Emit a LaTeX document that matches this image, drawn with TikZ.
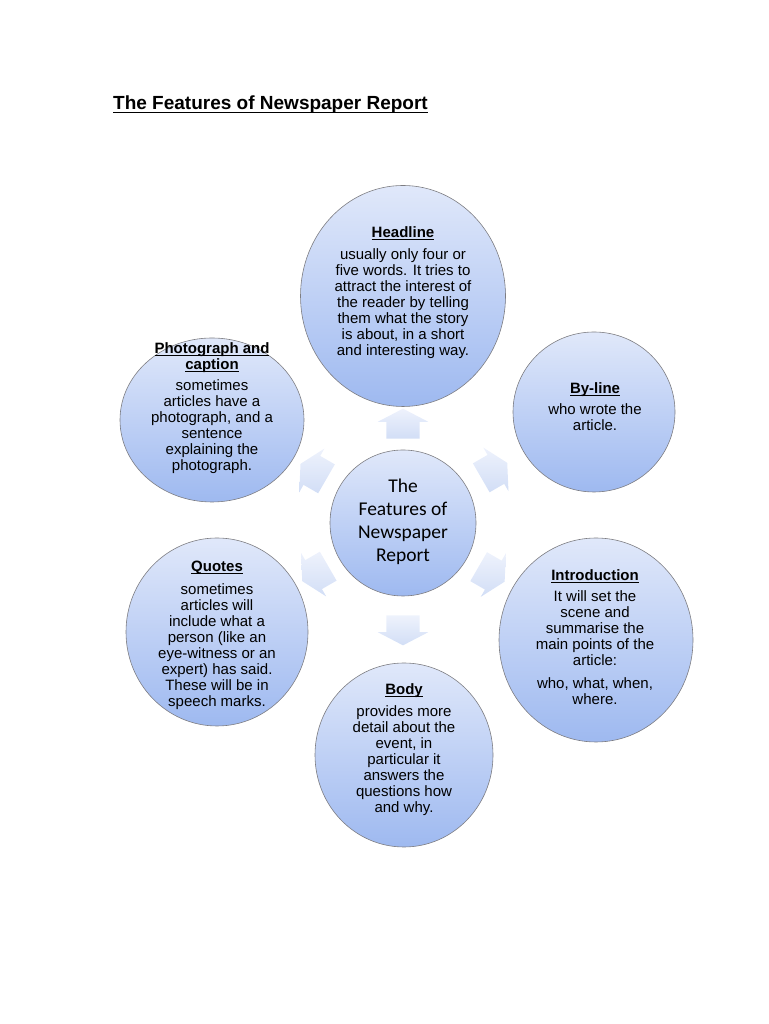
\documentclass[tikz,border=0pt]{standalone}
\usepackage{fontspec}
\setmainfont{Liberation Sans}
\newfontfamily\calibri{Carlito}
\usetikzlibrary{shapes.geometric,shapes.arrows,calc}
\definecolor{bubtop}{RGB}{224,232,250}
\definecolor{bubbot}{RGB}{158,185,240}
\definecolor{bubline}{RGB}{125,125,130}
\definecolor{arrtop}{RGB}{238,242,252}
\definecolor{arrbot}{RGB}{210,222,246}
\newcommand{\hd}[1]{\leavevmode\setbox0=\hbox{\bfseries #1}\rlap{\rule[-.17em]{\wd0}{.08em}}\box0}

\begin{document}
\begin{tikzpicture}[x=1pt,y=1pt,font=\fontsize{15}{16}\selectfont,
 bubble/.style={ellipse,draw=bubline,line width=.6pt,top color=bubtop,bottom color=bubbot,inner sep=0pt},
 blurb/.style={align=center,inner sep=0pt},
 fwd/.style={single arrow,single arrow head extend=8.5pt,single arrow tip angle=125,
   minimum height=30pt,inner xsep=0pt,inner ysep=16.5pt,top color=arrtop,bottom color=arrbot}]
 \useasboundingbox (0,0) rectangle (768,1024);
 \node[anchor=base west,inner sep=0pt,font=\fontsize{19}{22}\selectfont] (title) at (113,914) {\hd{The Features of Newspaper Report}};
 % the hub and the six bubbles
 \node[bubble,minimum width=146pt,minimum height=146pt] (hub) at (403,501) {};
 \node[bubble,minimum width=205pt,minimum height=221pt] (headline) at (403,728) {};
 \node[bubble,minimum width=162pt,minimum height=160pt] (byline) at (594,612) {};
 \node[bubble,minimum width=194pt,minimum height=204pt] (intro) at (596,384) {};
 \node[bubble,minimum width=178pt,minimum height=184pt] (body) at (404,269) {};
 \node[bubble,minimum width=182pt,minimum height=188pt] (quotes) at (217,392) {};
 \node[bubble,minimum width=184pt,minimum height=164pt] (photo) at (212,604) {};
 % block arrows pointing out of the hub
 \node[fwd,rotate=90] (to-headline) at ($(hub)+(90:95)$) {};
 \node[fwd,rotate=30] (to-byline) at ($(hub)+(30:101)$) {};
 \node[fwd,rotate=-30] (to-intro) at ($(hub)+(-30:98)$) {};
 \node[fwd,rotate=-90] (to-body) at ($(hub)+(-90:103)$) {};
 \node[fwd,rotate=210] (to-quotes) at ($(hub)+(210:97)$) {};
 \node[fwd,rotate=150] (to-photo) at ($(hub)+(150:99)$) {};
 % texts
 \node[blurb,font=\calibri\fontsize{19.5}{23}\selectfont] (hub-txt) at (403,502) {The\\ Features of\\ Newspaper\\ Report};
 \node[blurb] (headline-txt) at (403,731) {\hd{Headline}\\[6pt] usually only four or\\ five words. It tries to\\ attract the interest of\\ the reader by telling\\ them what the story\\ is about, in a short\\ and interesting way.};
 \node[blurb] (byline-txt) at (595,617) {\hd{By-line}\\[5pt] who wrote the\\ article.};
 \node[blurb] (intro-txt) at (595,387) {\hd{Introduction}\\[5pt] It will set the\\ scene and\\ summarise the\\ main points of the\\ article:\\[7pt] who, what, when,\\ where.};
 \node[blurb] (body-txt) at (404,274) {\hd{Body}\\[6pt] provides more\\ detail about the\\ event, in\\ particular it\\ answers the\\ questions how\\ and why.};
 \node[blurb] (quotes-txt) at (217,389) {\hd{Quotes}\\[7pt] sometimes\\ articles will\\ include what a\\ person (like an\\ eye-witness or an\\ expert) has said.\\ These will be in\\ speech marks.};
 \node[blurb] (photo-txt) at (212,616) {\hd{Photograph and}\\ \hd{caption}\\[5pt] sometimes\\ articles have a\\ photograph, and a\\ sentence\\ explaining the\\ photograph.};
\end{tikzpicture}
\end{document}
